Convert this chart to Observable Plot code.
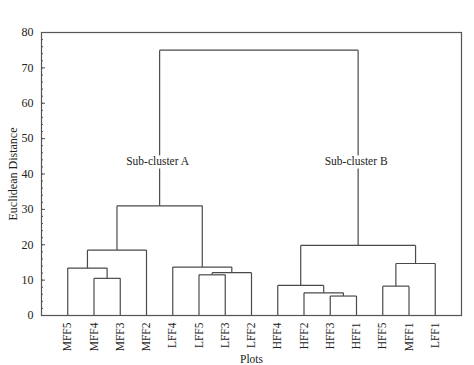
<!DOCTYPE html>
<html>
<head>
<meta charset="utf-8">
<script src="https://cdn.jsdelivr.net/npm/d3@7"></script>
<script src="https://cdn.jsdelivr.net/npm/@observablehq/plot@0.6"></script>
<style>
  html, body { margin: 0; padding: 0; background: #fff; }
  svg { display: block; }
</style>
</head>
<body>
<div id="chart"></div>
<script>
// Leaf order along the x axis
const leaves = ["MFF5","MFF4","MFF3","MFF2","LFF4","LFF5","LFF3","LFF2","HFF4","HFF2","HFF3","HFF1","HFF5","MFF1","LFF1"];
// Merges: [left child, right child, Euclidean distance]; "m<i>" refers to merge i
const merges = [
  ["MFF4","MFF3",10.5],   // m0
  ["MFF5","m0",13.4],     // m1
  ["m1","MFF2",18.5],     // m2
  ["LFF5","LFF3",11.5],   // m3
  ["m3","LFF2",12.1],     // m4
  ["LFF4","m4",13.7],     // m5
  ["m2","m5",31.0],       // m6
  ["HFF3","HFF1",5.5],    // m7
  ["HFF2","m7",6.4],      // m8
  ["HFF4","m8",8.5],      // m9
  ["HFF5","MFF1",8.3],    // m10
  ["m10","LFF1",14.7],    // m11
  ["m9","m11",19.8],      // m12
  ["m6","m12",75.0]       // m13
];
const clusterLabels = ["Sub-cluster A","Sub-cluster B"];
const clusterNodes = ["m6","m12"];
const clusterLabelY = 43.7;
const yTicks = [0,10,20,30,40,50,60,70,80];
const yMinorTicks = d3.range(0, 81, 2);

// Build node positions
const nodes = new Map();
leaves.forEach((name, i) => nodes.set(name, {x: i + 1, h: 0}));
const segs = [];
merges.forEach(([a, b, h], i) => {
  const na = nodes.get(a), nb = nodes.get(b);
  segs.push({x1: na.x, y1: na.h, x2: na.x, y2: h});
  segs.push({x1: nb.x, y1: nb.h, x2: nb.x, y2: h});
  segs.push({x1: na.x, y1: h, x2: nb.x, y2: h});
  nodes.set("m" + i, {x: (na.x + nb.x) / 2, h});
});
const labelData = clusterLabels.map((t, i) => ({text: t, x: nodes.get(clusterNodes[i]).x, y: clusterLabelY}));

const font = "'Liberation Serif', 'Times New Roman', serif";
const chart = Plot.plot({
  width: 474,
  height: 365,
  marginTop: 32,
  marginBottom: 50,
  marginLeft: 41,
  marginRight: 13,
  style: {fontFamily: font, fontSize: "12px", color: "#222", background: "#fff"},
  x: {domain: [0, 16]},
  y: {domain: [0, 80]},
  marks: [
    Plot.link(segs, {x1: "x1", y1: "y1", x2: "x2", y2: "y2", stroke: "#4a4a4a", strokeWidth: 1.2}),
    Plot.text(labelData, {x: "x", y: "y", text: "text", dx: -2, fontSize: 11.5, fill: "#222", stroke: "white", strokeWidth: 7}),
    Plot.frame({stroke: "#555", strokeWidth: 1.2}),
    Plot.axisY({ticks: yMinorTicks, tickSize: -2, text: null, label: null, stroke: "#555"}),
    Plot.axisY({ticks: yTicks, tickSize: -4, text: null, label: null, stroke: "#555"}),
    Plot.axisY({ticks: yTicks, tickSize: 0, tickPadding: 8, fontSize: 12,
      label: "Euclidean Distance", labelAnchor: "center", labelArrow: "none", labelOffset: 33}),
    Plot.axisX({ticks: leaves.map((d, i) => i + 1), tickFormat: (d) => leaves[d - 1],
      tickRotate: -90, tickSize: 0, tickPadding: 7, fontSize: 11.5,
      label: "Plots", labelAnchor: "center", labelArrow: "none", labelOffset: 47})
  ]
});
document.getElementById("chart").appendChild(chart);
</script>
</body>
</html>
